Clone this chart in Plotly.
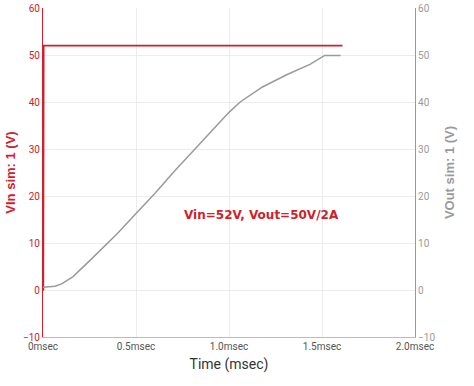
import plotly.graph_objects as go

# Data (time in msec, volts)
vin_t = [0.0, 0.002, 0.004, 1.61]
vin_v = [0.0, 0.0, 52.0, 52.0]

vout_t = [0.0, 0.065, 0.10, 0.16, 0.25, 0.34, 0.40, 0.50, 0.60, 0.70, 0.80,
          0.90, 1.00, 1.06, 1.18, 1.31, 1.435, 1.515, 1.60]
vout_v = [0.6, 0.8, 1.3, 2.8, 6.2, 9.6, 12.0, 16.3, 20.5, 25.0, 29.3,
          33.6, 37.8, 40.0, 43.2, 45.8, 48.0, 49.9, 49.9]

x_ticks = [0, 0.5, 1.0, 1.5, 2.0]
x_labels = ["0msec", "0.5msec", "1.0msec", "1.5msec", "2.0msec"]
y_ticks = [-10, 0, 10, 20, 30, 40, 50, 60]

RED = "#d0202a"
GREY = "#9a9a9a"

fig = go.Figure()
fig.add_trace(go.Scatter(x=vout_t, y=vout_v, mode="lines", yaxis="y2",
                         line=dict(color=GREY, width=1.5), name="VOut"))
fig.add_trace(go.Scatter(x=vin_t, y=vin_v, mode="lines",
                         line=dict(color=RED, width=1.6), name="VIn"))

fig.add_annotation(x=1.175, y=16, xref="x", yref="y", text="<b>Vin=52V, Vout=50V/2A</b>",
                   showarrow=False, font=dict(color=RED, size=12, family="DejaVu Sans"))

fig.update_layout(
    width=474, height=386,
    margin=dict(l=43, r=59, t=8, b=49),
    paper_bgcolor="white", plot_bgcolor="white",
    showlegend=False,
    font=dict(family="Roboto", size=10),
    xaxis=dict(range=[0, 2.0], tickvals=x_ticks, ticktext=x_labels, automargin=False,
               showgrid=True, gridcolor="#ececec", gridwidth=1,
               showline=True, linecolor="#bbbbbb", linewidth=1,
               tickfont=dict(color="#555555", size=10), zeroline=False,
               title=dict(text="Time (msec)", font=dict(size=14, color="#333333"), standoff=8)),
    yaxis=dict(range=[-10, 60], tickvals=y_ticks, automargin=False,
               showgrid=True, gridcolor="#ececec", gridwidth=1,
               showline=True, linecolor=RED, linewidth=1.2, zeroline=False,
               tickfont=dict(color=RED, size=10),
               title=dict(text="<b>VIn sim: 1 (V)</b>", font=dict(size=13, color=RED, family="Liberation Sans"), standoff=4)),
    yaxis2=dict(range=[-10, 60], tickvals=y_ticks, overlaying="y", side="right", automargin=False,
                showgrid=False, showline=True, linecolor="#999999", linewidth=1.2, zeroline=False,
                tickfont=dict(color=GREY, size=10),
                title=dict(text="<b>VOut sim: 1 (V)</b>", font=dict(size=13, color=GREY, family="Liberation Sans"), standoff=10)),
)

fig.write_html("out.html", config={"displayModeBar": False},
               post_script="document.body.style.margin='0';")
